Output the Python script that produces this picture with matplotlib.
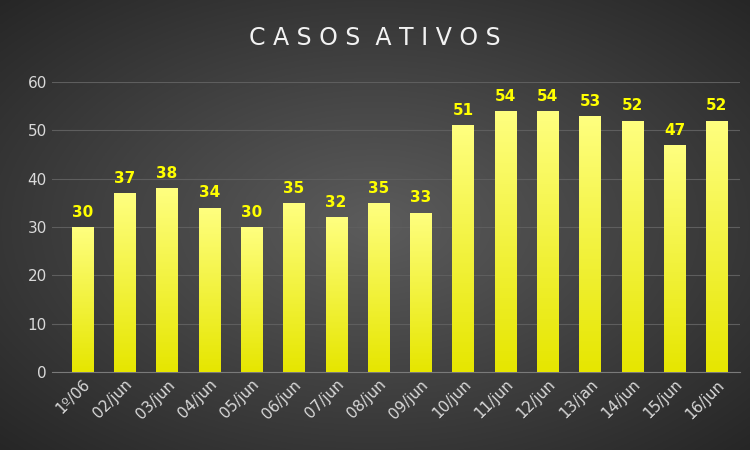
import matplotlib
matplotlib.use("Agg")
import matplotlib.pyplot as plt
import numpy as np

categories = ["1º/06","02/jun","03/jun","04/jun","05/jun","06/jun","07/jun","08/jun",
              "09/jun","10/jun","11/jun","12/jun","13/jan","14/jun","15/jun","16/jun"]
values = [30,37,38,34,30,35,32,35,33,51,54,54,53,52,47,52]

fig = plt.figure(figsize=(7.5,4.5), dpi=100)
bg = fig.add_axes([0,0,1,1])
yy, xx = np.mgrid[-1:1:300j, -1:1:500j]
r = np.sqrt(xx**2 + yy**2)/np.sqrt(2)
c = 0.36 - 0.21*r
bg.imshow(np.dstack([c,c,c]), aspect='auto', extent=[0,1,0,1])
bg.axis('off')

ax = fig.add_axes([0.069,0.173,0.918,0.645])
ax.patch.set_alpha(0)
x = np.arange(len(categories))
bars = ax.bar(x, values, width=0.5, color='none', zorder=3)
grad = np.linspace(0,1,256).reshape(-1,1)
from matplotlib.colors import LinearSegmentedColormap
cmap = LinearSegmentedColormap.from_list('y', ['#e6e600', '#ffff80'])
for b in bars:
    im = ax.imshow(grad, cmap=cmap, origin='lower', aspect='auto',
                   extent=[b.get_x(), b.get_x()+b.get_width(), 0, b.get_height()], zorder=3)
    im.set_clip_path(b)
for xi, v in zip(x, values):
    ax.text(xi, v+1.5, str(v), ha='center', va='bottom', color='#ffff00',
            fontsize=11, fontweight='bold', zorder=4)
ax.set_xlim(-0.72, len(categories)-0.45)
ax.set_ylim(0, 60)
ax.set_yticks(range(0,61,10))
ax.yaxis.grid(True, color='#5e5e5e', linewidth=0.8, zorder=0)
ax.set_xticks(x)
ax.set_xticklabels(categories, rotation=45, ha='right', rotation_mode='anchor')
ax.tick_params(colors='#d9d9d9', labelsize=11, length=0)
for s in ['top','right','left']:
    ax.spines[s].set_visible(False)
ax.spines['bottom'].set_color('#7a7a7a')
fig.text(0.5, 0.915, "C A S O S   A T I V O S".replace("   ", "  "), ha='center', va='center',
         color='#f2f2f2', fontsize=17)
fig.savefig("out.png")
